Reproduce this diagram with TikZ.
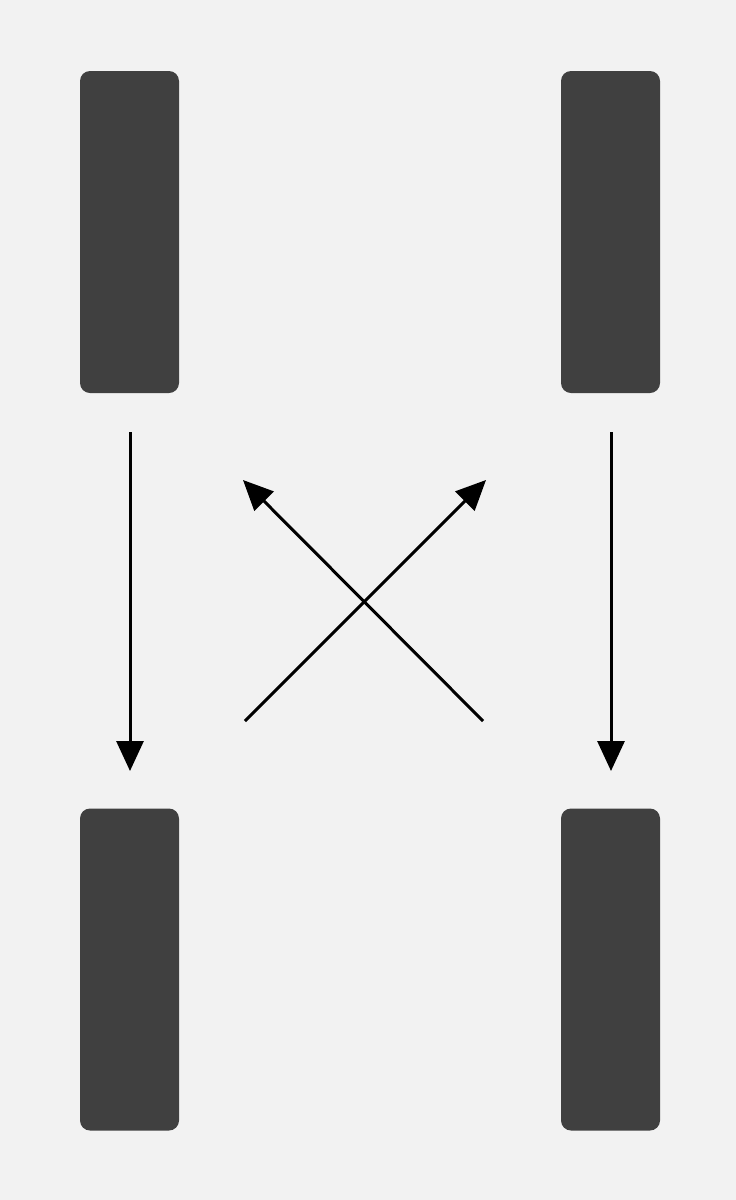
\documentclass[tikz,border=0pt]{standalone}
\usetikzlibrary{arrows.meta}
\definecolor{bgc}{HTML}{F2F2F2}
\definecolor{tirec}{HTML}{404040}
\tikzset{
  tire/.style={draw=none, fill=tirec, rounded corners=10pt, minimum width=99pt, minimum height=322pt, inner sep=0pt},
  rot/.style={draw=black, line width=3pt, -{Triangle[length=30pt,width=27pt]}}
}
\begin{document}
\begin{tikzpicture}[x=1pt,y=-1pt]
\fill[bgc] (0,0) rectangle (736,1200);
\useasboundingbox (0,0) rectangle (736,1200);
\node[tire] (tl) at (129.5,232) {};
\node[tire] (tr) at (610.5,232) {};
\node[tire] (bl) at (129.5,969.5) {};
\node[tire] (br) at (610.5,969.5) {};
\coordinate (ls) at (130,432);
\coordinate (le) at (130,771);
\coordinate (rs) at (611,432);
\coordinate (re) at (611,771);
\coordinate (c1s) at (245,721);
\coordinate (c1e) at (486,480);
\coordinate (c2s) at (483,721);
\coordinate (c2e) at (243,480);
\draw[rot] (ls) -- (le);
\draw[rot] (rs) -- (re);
\draw[rot] (c1s) -- (c1e);
\draw[rot] (c2s) -- (c2e);
\end{tikzpicture}
\end{document}
